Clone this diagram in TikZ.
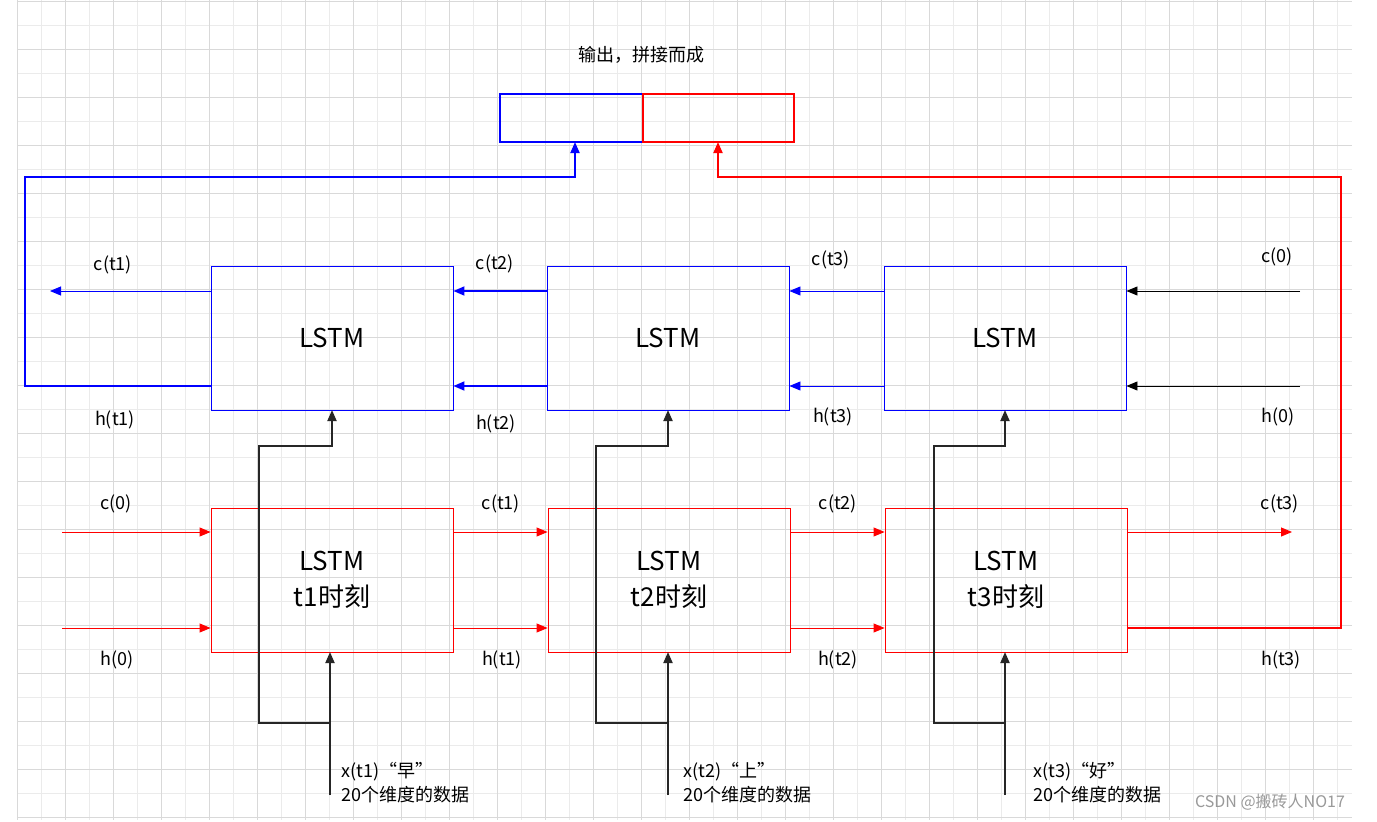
\documentclass[tikz,border=0pt]{standalone}
\usepackage{fontspec}
\setmainfont{Noto Sans CJK SC}
\usetikzlibrary{arrows.meta}
\begin{document}
\begin{tikzpicture}[x=1pt,y=-1pt,
  box/.style={draw,line width=0.9pt,minimum width=242pt,minimum height=144pt,inner sep=0pt,font=\fontsize{26}{36}\selectfont},
  lab/.style={font=\fontsize{18}{24}\selectfont},
  arr/.style={-{Triangle[length=11pt,width=9pt]},line width=0.9pt},
  blk/.style={arr,line width=1.8pt,black!85}]
\useasboundingbox (0,0) rectangle (1377,822);
\fill[white] (0,0) rectangle (1377,822);
\foreach \x in {17,41,...,1352} \draw[black!8,line width=0.6pt] (\x,0) -- (\x,820);
\foreach \y in {1,25,...,820} \draw[black!8,line width=0.6pt] (17,\y) -- (1352,\y);
\foreach \x in {17,65,...,1352} \draw[black!15,line width=0.6pt] (\x,0) -- (\x,820);
\foreach \y in {1,49,...,820} \draw[black!15,line width=0.6pt] (17,\y) -- (1352,\y);
% output
\node[lab] (title) at (641,55) {输出，拼接而成};
\node[draw=blue,line width=1.3pt,minimum width=143pt,minimum height=48pt,inner sep=0pt] (ob) at (571.5,118) {};
\node[draw=red,line width=1.3pt,minimum width=151pt,minimum height=48pt,inner sep=0pt] (or) at (718.5,118) {};
% top boxes
\node[box,draw=blue] (T1) at (332,338) {LSTM};
\node[box,draw=blue] (T2) at (668,338) {LSTM};
\node[box,draw=blue] (T3) at (1005,338) {LSTM};
% bottom boxes
\node[box,draw=red,align=center] (B1) at (332,580) {LSTM\\t1时刻};
\node[box,draw=red,align=center] (B2) at (669,580) {LSTM\\t2时刻};
\node[box,draw=red,align=center] (B3) at (1006,580) {LSTM\\t3时刻};
% coordinates
\coordinate (c0t) at (1300,291); \coordinate (h0t) at (1300,386);
\coordinate (c1end) at (50,291);
\coordinate (c0b) at (62,532); \coordinate (h0b) at (62,628);
\coordinate (c3end) at (1292,532);
% top arrows
\draw[arr,black] (c0t) -- (c0t-|T3.east);
\draw[arr,black] (h0t) -- (h0t-|T3.east);
\draw[arr,blue] (c0t-|T3.west) -- (c0t-|T2.east);
\draw[arr,blue] (h0t-|T3.west) -- (h0t-|T2.east);
\draw[arr,blue,line width=1.8pt] (c0t-|T2.west) -- (c0t-|T1.east);
\draw[arr,blue,line width=1.8pt] (h0t-|T2.west) -- (h0t-|T1.east);
\draw[arr,blue] (c0t-|T1.west) -- (c1end);
\draw[arr,blue,line width=1.8pt] (h0t-|T1.west) -- (25,386) -- (25,177) -- (575,177) -- (575,142);
% bottom arrows
\draw[arr,red] (c0b) -- (c0b-|B1.west);
\draw[arr,red] (h0b) -- (h0b-|B1.west);
\draw[arr,red] (c0b-|B1.east) -- (c0b-|B2.west);
\draw[arr,red] (h0b-|B1.east) -- (h0b-|B2.west);
\draw[arr,red] (c0b-|B2.east) -- (c0b-|B3.west);
\draw[arr,red] (h0b-|B2.east) -- (h0b-|B3.west);
\draw[arr,red] (c0b-|B3.east) -- (c3end);
\draw[arr,red,line width=1.8pt] (h0b-|B3.east) -- (1341,628) -- (1341,177) -- (718,177) -- (718,142);
% inputs
\foreach \i/\xa/\xb/\xl in {1/330/259/332,2/668/596/668,3/1005/934/1005}{
  \coordinate (in\i) at (\xa,795);
  \draw[blk] (in\i) -- (\xa,652);
  \draw[blk] (\xa,723) -- (\xb,723) -- (\xb,446) -- (\xl,446) -- (\xl,410);
}
\node[lab,anchor=west,align=left] (x1) at (338,783) {x(t1)“早”\\20个维度的数据};
\node[lab,anchor=west,align=left] (x2) at (680,783) {x(t2)“上”\\20个维度的数据};
\node[lab,anchor=west,align=left] (x3) at (1030,783) {x(t3)“好”\\20个维度的数据};
% labels
\node[lab] at (113,265) {c(t1)}; \node[lab] at (115,420) {h(t1)};
\node[lab] at (495,264) {c(t2)}; \node[lab] at (496,424) {h(t2)};
\node[lab] at (831,260) {c(t3)}; \node[lab] at (833,417) {h(t3)};
\node[lab] at (1277,257) {c(0)}; \node[lab] at (1278,417) {h(0)};
\node[lab] at (116,504) {c(0)}; \node[lab] at (117,660) {h(0)};
\node[lab] at (501,504) {c(t1)}; \node[lab] at (502,660) {h(t1)};
\node[lab] at (838,504) {c(t2)}; \node[lab] at (838,660) {h(t2)};
\node[lab] at (1280,504) {c(t3)}; \node[lab] at (1281,660) {h(t3)};
\node[lab,black!40,font=\fontsize{16}{20}\selectfont] at (1270,802) {CSDN @搬砖人NO17};
\end{tikzpicture}
\end{document}
